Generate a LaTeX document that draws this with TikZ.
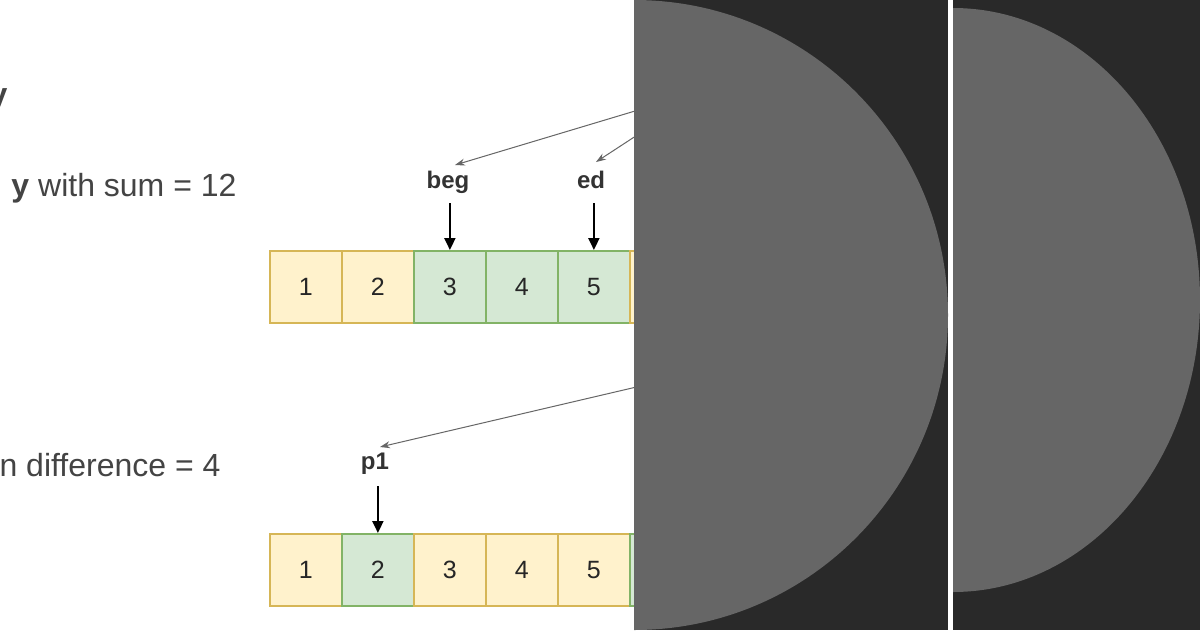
\documentclass[tikz,border=0pt]{standalone}
\usepackage{fontspec}
\setmainfont{Liberation Sans}
\usetikzlibrary{arrows.meta}
\definecolor{yf}{HTML}{FFF2CC}\definecolor{yd}{HTML}{D6B656}
\definecolor{gf}{HTML}{D5E8D4}\definecolor{gd}{HTML}{82B366}
\definecolor{txt}{HTML}{444444}
\begin{document}
\begin{tikzpicture}[x=1pt,y=-1pt,
  cell/.style={draw,line width=1.8pt,minimum width=72pt,minimum height=72pt,inner sep=0pt,font=\fontsize{25}{28}\selectfont,text=black!85,anchor=north west},
  yc/.style={cell,fill=yf,draw=yd},
  gc/.style={cell,fill=gf,draw=gd},
  lab/.style={font=\fontsize{24}{26}\selectfont\bfseries,text=black!80},
  big/.style={font=\fontsize{32}{36}\selectfont,text=txt},
  bk/.style={-{Triangle[length=12pt,width=11pt]},line width=2pt},
  gr/.style={-{Stealth[length=10pt,width=7pt]},line width=1pt,draw=black!60}]
\useasboundingbox (0,0) rectangle (1200,630);
\clip (0,0) rectangle (1200,630);
\fill[white] (0,0) rectangle (1200,630);
\node[big,anchor=east] (t0) at (11,100) {\textbf{y}};
\node[big,anchor=east] (t1) at (240,188) {\textbf{y} with sum = 12};
\node[big,anchor=east] (t2) at (224,465) {n difference = 4};
% row 1
\node[yc] (a1) at (269,250) {1};
\node[yc] (a2) at (341,250) {2};
\node[gc] (a3) at (413,250) {3};
\node[gc] (a4) at (485,250) {4};
\node[gc] (a5) at (557,250) {5};
\node[yc] (a6) at (629,250) {};
% row 2
\node[yc] (b1) at (269,533) {1};
\node[gc] (b2) at (341,533) {2};
\node[yc] (b3) at (413,533) {3};
\node[yc] (b4) at (485,533) {4};
\node[yc] (b5) at (557,533) {5};
\node[gc] (b6) at (629,533) {};
\node[lab] (beg) at (448,182) {beg};
\node[lab] (ed) at (591,180) {ed};
\node[lab] (p1) at (375,464) {p1};
\draw[bk] (a3.north |- 0,203) -- (a3.north);
\draw[bk] (a5.north |- 0,203) -- (a5.north);
\draw[bk] (b2.north |- 0,486) -- (b2.north);
\coordinate (s1) at (645,108);
\coordinate (s2) at (645,130);
\coordinate (s3) at (645,385);
\draw[gr] (s1) -- (455,165);
\draw[gr] (s2) -- (596,162);
\draw[gr] (s3) -- (380,447);
% dark panel
\fill[black!84] (634,0) rectangle (1200,630);
\fill[white] (948,0) rectangle (953,630);
\begin{scope}
\clip (634,0) rectangle (948,630);
\fill[black!60] (634,315) ellipse[x radius=314,y radius=315];
\end{scope}
\begin{scope}
\clip (953,0) rectangle (1200,630);
\fill[black!60] (953,300) ellipse[x radius=247,y radius=292];
\end{scope}
\end{tikzpicture}
\end{document}
